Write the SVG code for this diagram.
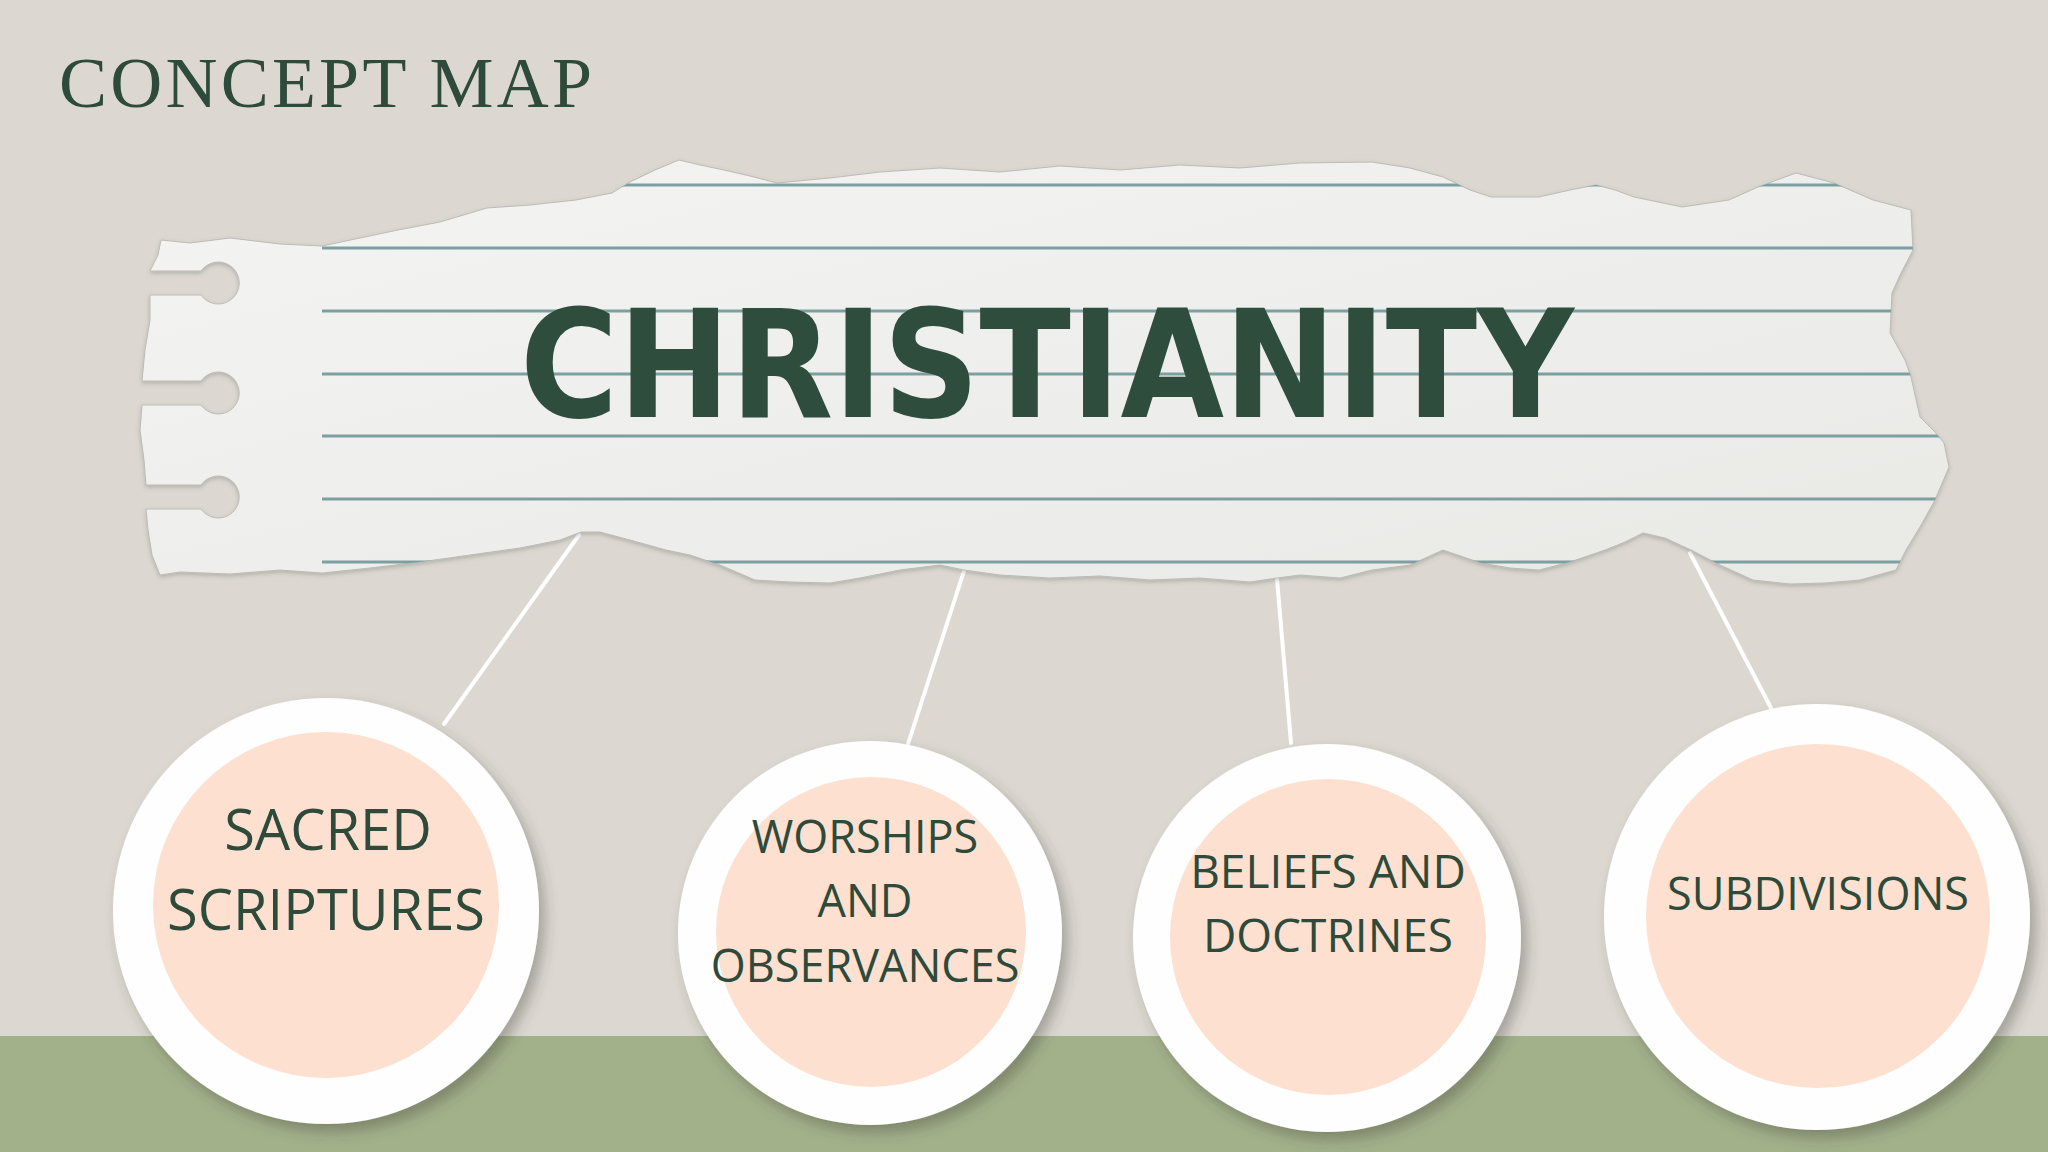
<svg xmlns="http://www.w3.org/2000/svg" width="2048" height="1152" viewBox="0 0 2048 1152">
<defs>
<style>
.label{font-family:"Open Sans","Noto Sans","DejaVu Sans",sans-serif;fill:#2d4a3a;text-anchor:middle}
.conn{stroke:#ffffff;stroke-width:4;stroke-linecap:round;fill:none}
.ruled{stroke:#7d9fa1;stroke-width:3}
.outer{fill:#fefefe}
.inner{fill:#fde0cf}
</style>
<filter id="shadow" x="-20%" y="-20%" width="150%" height="150%">
<feDropShadow dx="6" dy="8" stdDeviation="7" flood-color="#3a3a30" flood-opacity="0.35"/>
</filter>
<filter id="pshadow" x="-5%" y="-10%" width="110%" height="130%">
<feDropShadow dx="0" dy="2" stdDeviation="2" flood-color="#555" flood-opacity="0.3"/>
</filter>
<linearGradient id="paperGrad" x1="0" y1="0" x2="1" y2="1">
<stop offset="0" stop-color="#f4f4f2"/>
<stop offset="0.5" stop-color="#eeeeec"/>
<stop offset="1" stop-color="#e9e9e6"/>
</linearGradient>
<path id="paperShape" d="M161,240 L190,243 L230,238 L280,244 L322,246 L360,238 L398,230 L440,222 L487,208 L530,205 L576,200 L612,193 L630,182 L655,170 L679,160 L700,165 L724,170 L750,176 L777,183 L830,178 L880,172 L940,168 L1000,172 L1060,166 L1120,170 L1180,165 L1240,168 L1300,163 L1372,162 L1410,168 L1443,177 L1470,190 L1491,197 L1539,197 L1570,190 L1596,185 L1615,190 L1634,197 L1682,207 L1729,200 L1758,187 L1796,173 L1834,183 L1873,200 L1911,210 L1913,250 L1900,275 L1892,293 L1890,333 L1905,360 L1911,377 L1920,417 L1935,432 L1944,443 L1949,467 L1935,500 L1920,527 L1906,550 L1896,570 L1860,580 L1825,583 L1790,584 L1753,580 L1720,565 L1691,550 L1665,538 L1643,533 L1625,542 L1605,550 L1570,562 L1539,570 L1510,568 L1481,563 L1443,550 L1410,565 L1372,570 L1340,578 L1300,575 L1277,578 L1250,582 L1200,578 L1150,580 L1100,576 L1050,578 L1000,575 L964,570 L940,565 L900,570 L860,578 L830,583 L790,582 L755,580 L720,565 L690,555 L666,550 L630,540 L600,532 L581,532 L560,540 L520,548 L470,555 L420,562 L370,568 L322,573 L280,570 L230,574 L180,572 L160,575 L152,555 L148,530 L146,509 L201,509 A21,21 0 1 0 201,485 L146,485 L144,460 L140,430 L142,405 L201,405 A21,21 0 1 0 201,381 L142,381 L145,350 L150,320 L150,295 L201,295 A21,21 0 1 0 201,271 L150,271 L158,255 Z"/>
<clipPath id="paperClip"><use href="#paperShape"/></clipPath>
</defs>

<rect x="0" y="0" width="2048" height="1152" fill="#dcd8d1"/>
<rect x="0" y="1036" width="2048" height="116" fill="#a3b18b"/>

<text id="title" x="59" y="107" font-family="'Liberation Serif','Times New Roman',serif" font-size="72" fill="#2d4a3a" textLength="533" lengthAdjust="spacing">CONCEPT MAP</text>

<g id="connectors">
<line class="conn" x1="579" y1="535" x2="444" y2="724"/>
<line class="conn" x1="964" y1="571" x2="908" y2="744"/>
<line class="conn" x1="1277" y1="579" x2="1291" y2="743"/>
<line class="conn" x1="1690" y1="553" x2="1771" y2="708"/>
</g>

<g id="node-christianity">
<use href="#paperShape" fill="url(#paperGrad)" stroke="#bdbbb5" stroke-width="1" filter="url(#pshadow)"/>
<g clip-path="url(#paperClip)">
<line class="ruled" x1="322" y1="185" x2="1960" y2="185"/>
<line class="ruled" x1="322" y1="248" x2="1960" y2="248"/>
<line class="ruled" x1="322" y1="311" x2="1960" y2="311"/>
<line class="ruled" x1="322" y1="374" x2="1960" y2="374"/>
<line class="ruled" x1="322" y1="436" x2="1960" y2="436"/>
<line class="ruled" x1="322" y1="499" x2="1960" y2="499"/>
<line class="ruled" x1="322" y1="562" x2="1960" y2="562"/>
</g>
<text x="520" y="417" font-family="'DejaVu Sans','Verdana',sans-serif" font-weight="bold" font-size="150" fill="#2e4d3d" textLength="1054" lengthAdjust="spacingAndGlyphs">CHRISTIANITY</text>
</g>

<g id="node-sacred-scriptures">
<circle class="outer" cx="326" cy="911" r="213" filter="url(#shadow)"/>
<circle class="inner" cx="326" cy="905" r="173"/>
<text class="label" x="328" y="850" font-size="56">SACRED</text>
<text class="label" x="326" y="930" font-size="56">SCRIPTURES</text>
</g>

<g id="node-worships">
<circle class="outer" cx="870" cy="933" r="192" filter="url(#shadow)"/>
<circle class="inner" cx="871" cy="932" r="155"/>
<text class="label" x="865" y="853" font-size="45">WORSHIPS</text>
<text class="label" x="865" y="917" font-size="45">AND</text>
<text class="label" x="865" y="982" font-size="45">OBSERVANCES</text>
</g>

<g id="node-beliefs">
<circle class="outer" cx="1327" cy="938" r="194" filter="url(#shadow)"/>
<circle class="inner" cx="1328" cy="937" r="158"/>
<text class="label" x="1328" y="888" font-size="46">BELIEFS AND</text>
<text class="label" x="1328" y="952" font-size="46">DOCTRINES</text>
</g>

<g id="node-subdivisions">
<circle class="outer" cx="1817" cy="917" r="213" filter="url(#shadow)"/>
<circle class="inner" cx="1818" cy="916" r="172"/>
<text class="label" x="1818" y="910" font-size="45">SUBDIVISIONS</text>
</g>
</svg>
